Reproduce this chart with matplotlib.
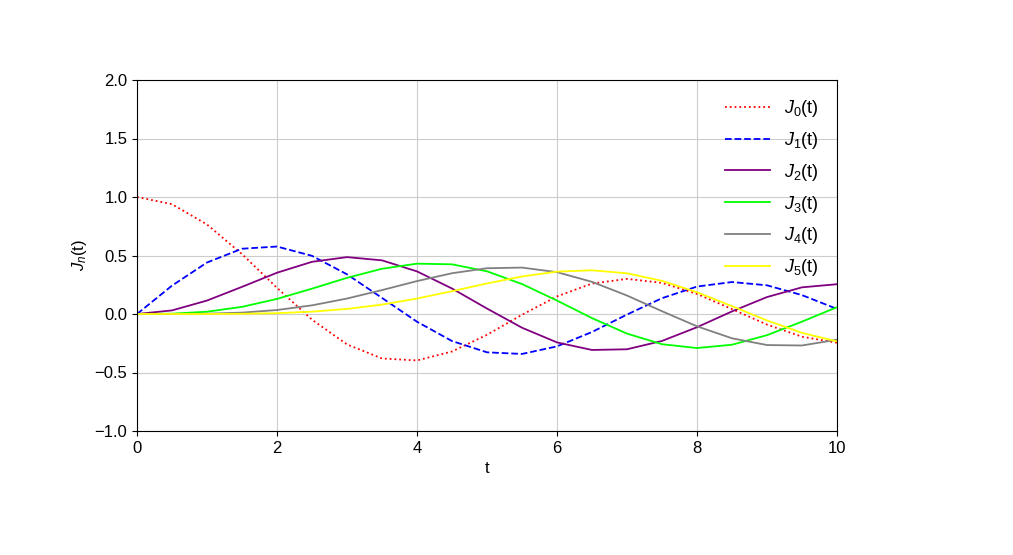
import matplotlib
matplotlib.use("Agg")
import matplotlib.pyplot as plt

plt.rcParams['font.family'] = ['Liberation Sans', 'DejaVu Sans']
plt.rcParams['mathtext.fontset'] = 'custom'
plt.rcParams['mathtext.it'] = 'Liberation Sans:italic'
plt.rcParams['mathtext.rm'] = 'Liberation Sans'

t = [0, 0.5, 1, 1.5, 2, 2.5, 3, 3.5, 4, 4.5, 5, 5.5, 6, 6.5, 7, 7.5, 8, 8.5, 9, 9.5, 10]
J0 = [1, 0.9385, 0.7652, 0.5118, 0.2239, -0.0484, -0.2601, -0.3801, -0.3971, -0.3205, -0.1776,
      -0.0068, 0.1506, 0.2601, 0.3001, 0.2663, 0.1717, 0.0419, -0.0903, -0.1939, -0.2459]
J1 = [0, 0.2423, 0.4401, 0.5579, 0.5767, 0.4971, 0.3391, 0.1374, -0.0660, -0.2311, -0.3276,
      -0.3414, -0.2767, -0.1538, -0.0047, 0.1352, 0.2346, 0.2731, 0.2453, 0.1613, 0.0435]
J2 = [0, 0.0307, 0.1149, 0.2321, 0.3528, 0.4461, 0.4861, 0.4586, 0.3641, 0.2178, 0.0466,
      -0.1173, -0.2429, -0.3074, -0.3014, -0.2303, -0.1130, 0.0223, 0.1448, 0.2279, 0.2546]
J3 = [0, 0.0026, 0.0196, 0.0610, 0.1289, 0.2167, 0.3091, 0.3867, 0.4302, 0.4247, 0.3648,
      0.2561, 0.1148, -0.0354, -0.1676, -0.2581, -0.2911, -0.2626, -0.1809, -0.0653, 0.0584]
J4 = [0, 0.0002, 0.0025, 0.0118, 0.0340, 0.0740, 0.1321, 0.2043, 0.2812, 0.3485, 0.3912,
      0.3967, 0.3577, 0.2747, 0.1578, 0.0238, -0.1053, -0.2077, -0.2654, -0.2691, -0.2196]
J5 = [0, 0.0000, 0.0002, 0.0018, 0.0070, 0.0201, 0.0432, 0.0803, 0.1322, 0.1949, 0.2611,
      0.3209, 0.3621, 0.3735, 0.3479, 0.2835, 0.1858, 0.0671, -0.0550, -0.1613, -0.2341]

fig = plt.figure(figsize=(10.13, 5.55), dpi=100)
ax = fig.add_axes([137/1013, 1-431/555, 700/1013, 351/555])
ax.plot(t, J0, color="red", ls=":", lw=1.3, label=r"$J_0$(t)")
ax.plot(t, J1, color="blue", ls="--", lw=1.3, label=r"$J_1$(t)")
ax.plot(t, J2, color="purple", lw=1.3, label=r"$J_2$(t)")
ax.plot(t, J3, color="lime", lw=1.3, label=r"$J_3$(t)")
ax.plot(t, J4, color="gray", lw=1.3, label=r"$J_4$(t)")
ax.plot(t, J5, color="yellow", lw=1.3, label=r"$J_5$(t)")
ax.set_xlim(0, 10)
ax.set_ylim(-1, 2)
ax.set_xticks([0, 2, 4, 6, 8, 10])
ax.set_yticks([-1, -0.5, 0, 0.5, 1, 1.5, 2])
ax.set_yticklabels(["\u22121.0", "\u22120.5", "0.0", "0.5", "1.0", "1.5", "2.0"])
ax.grid(True, color="#cccccc", lw=0.8)
ax.set_xlabel("t", fontsize=12)
ax.set_ylabel(r"$J_n$(t)", fontsize=12)
ax.tick_params(labelsize=12)
ax.legend(loc="upper right", frameon=False, fontsize=13, handlelength=2.5,
          labelspacing=0.6, borderaxespad=0.6)
fig.savefig("out.png", dpi=100)
